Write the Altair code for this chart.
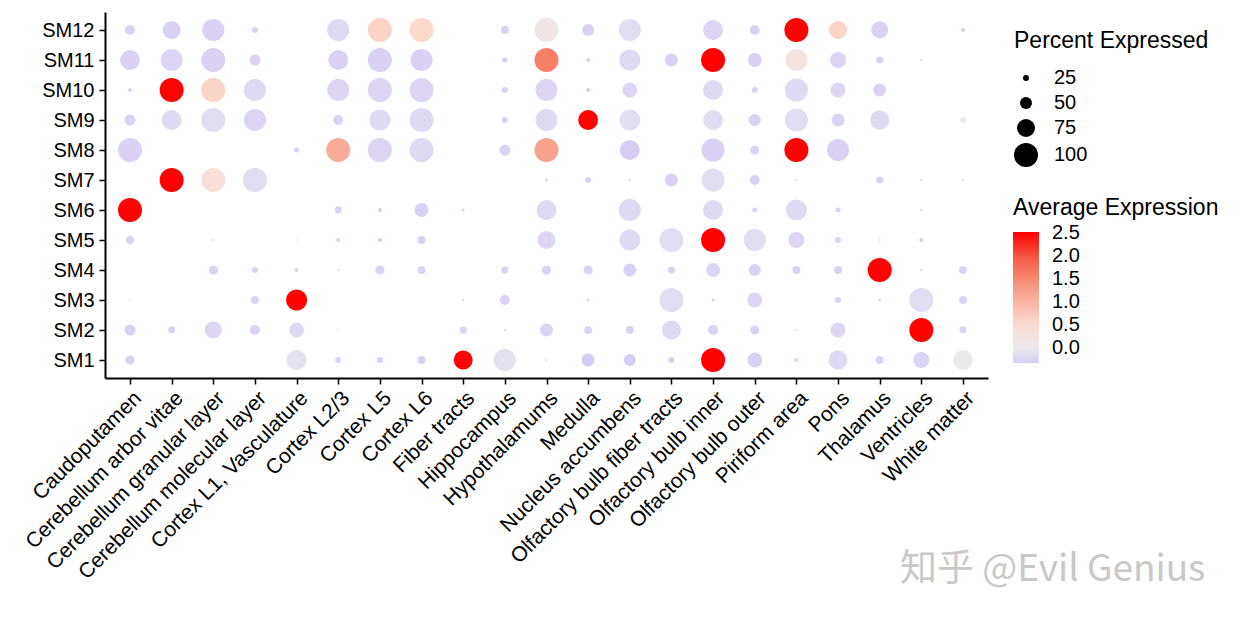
import altair as alt
import pandas as pd

regions = ["Caudoputamen", "Cerebellum arbor vitae", "Cerebellum granular layer",
           "Cerebellum molecular layer", "Cortex L1, Vasculature", "Cortex L2/3",
           "Cortex L5", "Cortex L6", "Fiber tracts", "Hippocampus", "Hypothalamums",
           "Medulla", "Nucleus accumbens", "Olfactory bulb fiber tracts",
           "Olfactory bulb inner", "Olfactory bulb outer", "Piriform area", "Pons",
           "Thalamus", "Ventricles", "White matter"]

modules = ["SM12", "SM11", "SM10", "SM9", "SM8", "SM7", "SM6", "SM5", "SM4", "SM3", "SM2", "SM1"]

# Percent expressed per module (row) across regions (columns)
pct_SM12 = [42, 75, 92, 25, 0, 92, 100, 100, 0, 33, 100, 50, 92, 0, 83, 42, 100, 75, 71, 0, 17]
pct_SM11 = [83, 92, 100, 46, 0, 83, 100, 92, 0, 21, 100, 17, 88, 54, 100, 58, 92, 67, 29, 8, 0]
pct_SM10 = [17, 100, 100, 92, 0, 92, 100, 100, 0, 25, 92, 17, 62, 0, 83, 25, 96, 62, 54, 0, 0]
pct_SM9 = [46, 83, 100, 92, 0, 42, 88, 100, 0, 25, 92, 83, 88, 0, 83, 50, 96, 54, 79, 0, 25]
pct_SM8 = [100, 0, 0, 0, 21, 100, 100, 100, 0, 46, 100, 0, 83, 0, 96, 38, 100, 92, 0, 0, 0]
pct_SM7 = [0, 100, 100, 100, 0, 0, 0, 0, 0, 0, 12, 25, 8, 54, 96, 42, 8, 0, 29, 8, 8]
pct_SM6 = [100, 0, 0, 0, 0, 29, 17, 58, 12, 0, 83, 0, 92, 0, 83, 21, 88, 21, 0, 8, 0]
pct_SM5 = [33, 0, 8, 0, 6, 17, 17, 33, 0, 0, 75, 0, 88, 100, 100, 92, 67, 25, 8, 17, 0]
pct_SM4 = [0, 0, 38, 25, 17, 8, 38, 33, 0, 29, 38, 38, 54, 29, 58, 50, 33, 33, 100, 8, 33]
pct_SM3 = [6, 0, 0, 33, 88, 0, 0, 0, 8, 42, 0, 12, 0, 100, 12, 62, 0, 25, 12, 100, 33]
pct_SM2 = [46, 29, 71, 42, 62, 6, 0, 0, 29, 8, 54, 33, 33, 79, 42, 38, 8, 62, 0, 100, 29]
pct_SM1 = [38, 0, 0, 0, 83, 25, 25, 33, 79, 92, 8, 54, 50, 25, 100, 62, 17, 79, 33, 67, 83]

# Average (scaled) expression per module across regions
avg_SM12 = [-0.3, -0.3, -0.3, -0.3, 0, -0.2, 0.6, 0.55, 0, -0.3, 0.15, -0.3, -0.15, 0, -0.25, -0.3, 2.5, 0.6, -0.3, 0, -0.3]
avg_SM11 = [-0.3, -0.25, -0.3, -0.3, 0, -0.3, -0.3, -0.3, 0, -0.3, 1.6, -0.3, -0.2, -0.3, 2.5, -0.3, 0.25, -0.25, -0.3, -0.3, 0]
avg_SM10 = [-0.3, 2.5, 0.6, -0.2, 0, -0.25, -0.25, -0.25, 0, -0.3, -0.25, -0.3, -0.25, 0, -0.2, -0.3, -0.2, -0.25, -0.3, 0, 0]
avg_SM9 = [-0.3, -0.2, -0.15, -0.25, 0, -0.3, -0.2, -0.2, 0, -0.3, -0.2, 2.5, -0.15, 0, -0.15, -0.3, -0.15, -0.3, -0.2, 0, 0.0]
avg_SM8 = [-0.3, 0, 0, 0, -0.3, 1.1, -0.25, -0.2, 0, -0.3, 1.2, 0, -0.35, 0, -0.3, -0.3, 2.5, -0.3, 0, 0, 0]
avg_SM7 = [0, 2.5, 0.35, -0.15, 0, 0, 0, 0, 0, 0, -0.3, -0.3, -0.3, -0.3, -0.15, -0.3, -0.3, 0, -0.3, -0.3, -0.3]
avg_SM6 = [2.5, 0, 0, 0, 0, -0.3, -0.3, -0.3, -0.3, 0, -0.2, 0, -0.2, 0, -0.2, -0.3, -0.2, -0.3, 0, -0.3, 0]
avg_SM5 = [-0.3, 0, -0.3, 0, -0.3, -0.3, -0.3, -0.3, 0, 0, -0.25, 0, -0.2, -0.15, 2.5, -0.15, -0.25, -0.3, -0.3, -0.3, 0]
avg_SM4 = [0, 0, -0.3, -0.3, -0.3, -0.3, -0.3, -0.3, 0, -0.3, -0.3, -0.3, -0.3, -0.3, -0.25, -0.3, -0.3, -0.3, 2.5, -0.3, -0.3]
avg_SM3 = [-0.3, 0, 0, -0.3, 2.5, 0, 0, 0, -0.3, -0.3, 0, -0.3, 0, -0.15, -0.3, -0.25, 0, -0.3, -0.3, -0.15, -0.3]
avg_SM2 = [-0.3, -0.3, -0.25, -0.3, -0.2, -0.3, 0, 0, -0.3, -0.3, -0.25, -0.3, -0.3, -0.2, -0.3, -0.3, -0.3, -0.25, 0, 2.5, -0.3]
avg_SM1 = [-0.3, 0, 0, 0, -0.1, -0.3, -0.3, -0.3, 2.5, -0.1, -0.3, -0.35, -0.35, -0.3, 2.5, -0.3, -0.3, -0.2, -0.3, -0.25, 0.0]

pct_rows = [pct_SM12, pct_SM11, pct_SM10, pct_SM9, pct_SM8, pct_SM7,
            pct_SM6, pct_SM5, pct_SM4, pct_SM3, pct_SM2, pct_SM1]
avg_rows = [avg_SM12, avg_SM11, avg_SM10, avg_SM9, avg_SM8, avg_SM7,
            avg_SM6, avg_SM5, avg_SM4, avg_SM3, avg_SM2, avg_SM1]

records = []
for m, prow, arow in zip(modules, pct_rows, avg_rows):
    for r, p, a in zip(regions, prow, arow):
        if p > 0:
            records.append({"region": r, "module": m, "pct": p, "avg": a})
df = pd.DataFrame(records)

color_domain = [-0.33, 0.0, 0.5, 1.0, 1.5, 2.0, 2.52]
color_range = ["#D8CFF4", "#EBE9EC", "#FCDCD2", "#F9B4A2", "#F6896F", "#F45540", "#FF0000"]

FONT = "Liberation Sans"

dots = alt.Chart(df).mark_circle(opacity=1).encode(
    x=alt.X("region:N", sort=regions,
            scale=alt.Scale(type="point", padding=0.6, domain=regions),
            axis=alt.Axis(title=None, labelAngle=-45, labelAlign="right",
                          labelBaseline="top", labelPadding=3, labelFontSize=21,
                          labelLimit=0)),
    y=alt.Y("module:N", sort=modules,
            scale=alt.Scale(type="point", padding=0.6, domain=modules),
            axis=alt.Axis(title=None, labelPadding=5, labelFontSize=20, labelLimit=0)),
    size=alt.Size("pct:Q",
                  scale=alt.Scale(type="pow", exponent=2, domain=[0, 100], range=[0, 576]),
                  legend=alt.Legend(title="Percent Expressed", orient="none",
                                    legendX=909, legendY=18, direction="vertical",
                                    values=[25, 50, 75, 100],
                                    symbolFillColor="black", symbolStrokeWidth=0,
                                    symbolOpacity=1, titlePadding=15, rowPadding=5,
                                    labelOffset=16, titleLimit=0)),
    color=alt.Color("avg:Q",
                    scale=alt.Scale(domain=color_domain, range=color_range, interpolate="rgb"),
                    legend=alt.Legend(title="Average Expression", orient="none",
                                      legendX=908, legendY=185, direction="vertical",
                                      values=[0, 0.5, 1, 1.5, 2, 2.5], format=".1f",
                                      gradientLength=131, gradientThickness=26,
                                      gradientStrokeWidth=0, labelOffset=13,
                                      titlePadding=12, labelOverlap=False, titleLimit=0)),
)

mark_df = pd.DataFrame({"t": ["知乎 @Evil Genius"]})
watermark = alt.Chart(mark_df).mark_text(
    align="left", baseline="middle", fontSize=37, font="Noto Sans CJK SC",
    color="#C8C8C8"
).encode(text="t:N", x=alt.value(795), y=alt.value(558))

chart = alt.layer(dots, watermark).properties(
    width=883, height=366,
    autosize=alt.AutoSizeParams(type="none"),
    padding={"left": 97, "top": 4, "right": 244, "bottom": 225},
).configure_view(stroke=None).configure_axis(
    grid=False, domainColor="black", domainWidth=2, tickColor="black", tickWidth=1.5,
    tickSize=6, labelColor="black", labelFont=FONT
).configure_legend(
    titleFont=FONT, titleFontSize=23, titleFontWeight="normal", titleColor="black",
    labelFont=FONT, labelFontSize=20, labelColor="black", padding=0
)

chart.save("out.html", embed_options={"renderer": "svg", "actions": False})
